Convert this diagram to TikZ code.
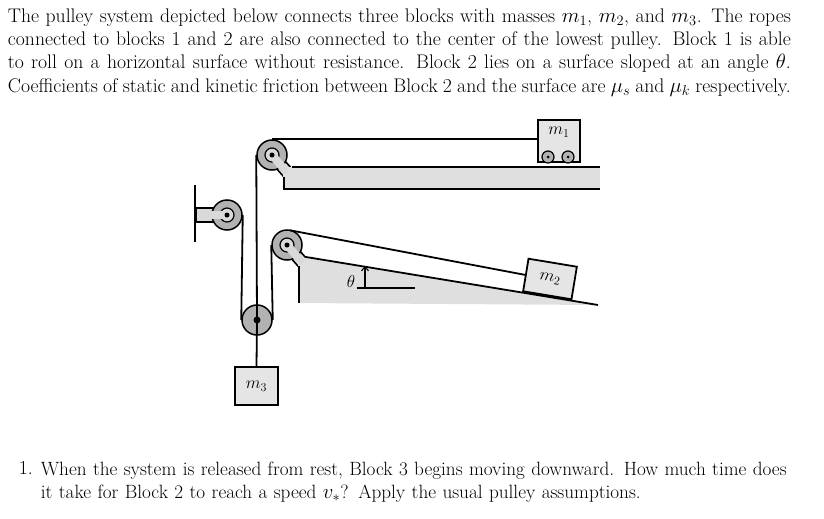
\documentclass[tikz,border=0pt]{standalone}
\usetikzlibrary{arrows.meta,calc}
\begin{document}
\begin{tikzpicture}[x=1pt,y=-1pt,line width=1.8pt,
  pulley/.style={draw=black,fill=gray!60,line width=1.5pt},
  hub/.style={draw=black,fill=gray!30,line width=1.2pt},
  block/.style={draw=black,fill=gray!20,line width=1.8pt,inner sep=0pt},
  para/.style={anchor=north west,align=justify,inner sep=0pt,font=\fontsize{19.7}{23.2}\selectfont}]
\useasboundingbox (0,0) rectangle (824,519);
% text
\node[para,text width=783pt] (txt) at (7,8) {The pulley system depicted below connects three blocks with masses $m_1$, $m_2$, and $m_3$. The ropes connected to blocks 1 and 2 are also connected to the center of the lowest pulley. Block 1 is able to roll on a horizontal surface without resistance. Block 2 lies on a surface sloped at an angle $\theta$. Coefficients of static and kinetic friction between Block 2 and the surface are $\mu_s$ and $\mu_k$ respectively.};
\node[para,anchor=north west] (num) at (18,461) {1.};
\node[para,text width=760pt,align=left,font=\fontsize{19.2}{23.2}\selectfont] (q) at (40,461) {When the system is released from rest, Block 3 begins moving downward. How much time does it take for Block 2 to reach a speed $v_*$? Apply the usual pulley assumptions.};
% top shelf
\draw[line width=13pt,line cap=round] (272,155) -- (288,173);
\fill[gray!25] (283,167) rectangle (600,189);
\draw[line width=9.5pt,gray!25,line cap=round] (272,155) -- (288,173);
\fill[gray!25] (283,172) rectangle (296,188);
\draw (600,167) -- (292,167);
\draw (284,177) -- (284,189) -- (600,189);
% incline
\draw[line width=13pt,line cap=round] (287,245) -- (302,262);
\fill[gray!25] (307,257) -- (598,305) -- (298,303) -- (298,263) -- cycle;
\draw[line width=9.5pt,gray!25,line cap=round] (287,245) -- (302,262);
\fill[gray!25] (298,264) -- (310,260) -- (310,275) -- (298,275) -- cycle;
\draw (306,257) -- (598,305);
\draw (299,266) -- (299,303);
% wall + bracket
\draw[line width=2.2pt] (195,185) -- (195,242);
\fill[gray!30,draw=black,line width=1.5pt] (196,208) rectangle (227,222);
% pulleys
\node[circle,pulley,minimum size=30pt] (pt) at (272,155) {};
\node[circle,pulley,minimum size=30pt] (pw) at (227,215) {};
\node[circle,pulley,minimum size=30pt] (pm) at (287,245) {};
\node[circle,pulley,minimum size=30pt] (pl) at (257,320) {};
\foreach \p in {pt,pw,pm}{\draw[hub] (\p.center) circle (7pt);}
\draw[gray!30,line width=8pt,line cap=round] (272,155) -- (285,170);
\draw[gray!30,line width=8pt,line cap=round] (287,245) -- (300,260);
\draw[gray!30,line width=8pt] (200,215) -- (227,215);
\foreach \p in {pt,pw,pm}{
  \fill (\p.center) circle (2.5pt);}
\fill (pl.center) circle (3.5pt);
% blocks
\node[block,minimum width=42pt,minimum height=42pt] (m1) at (559,141) {};
\node[font=\fontsize{17}{20}\selectfont] at (559,132) {$m_1$};
\node[circle,pulley,minimum size=12pt,line width=1.2pt] (w1) at (548,157) {};
\node[circle,pulley,minimum size=12pt,line width=1.2pt] (w2) at (568,157) {};
\fill (w1) circle (1.5pt) (w2) circle (1.5pt);
\node[block,minimum width=49pt,minimum height=33pt,rotate=-9.4,font=\fontsize{17}{20}\selectfont] (m2) at (550,279) {$m_2$};
\node[block,minimum width=43pt,minimum height=38pt,font=\fontsize{17}{20}\selectfont] (m3) at (256.5,386) {$m_3$};
% ropes
\draw (pt.north) -- (m1.west |- pt.north);
\draw (pt.west) -- (pl.center);
\draw (pw.east) -- (pl.west);
\draw (pm.west) -- (pl.east);
\draw ($(pm.center)+(79.6:15pt)$) -- (m2.west);
\draw (pl.center) -- (m3.north);
% theta
\coordinate (th0) at (365,288);
\draw[line width=1.1pt] (357,288) -- (415,288);
\draw[line width=1.1pt,-{Straight Barb[length=4pt,width=7pt]}] (th0) -- (365,266);
\node[font=\fontsize{17}{20}\selectfont] (thl) at (351,281) {$\theta$};
\end{tikzpicture}
\end{document}
